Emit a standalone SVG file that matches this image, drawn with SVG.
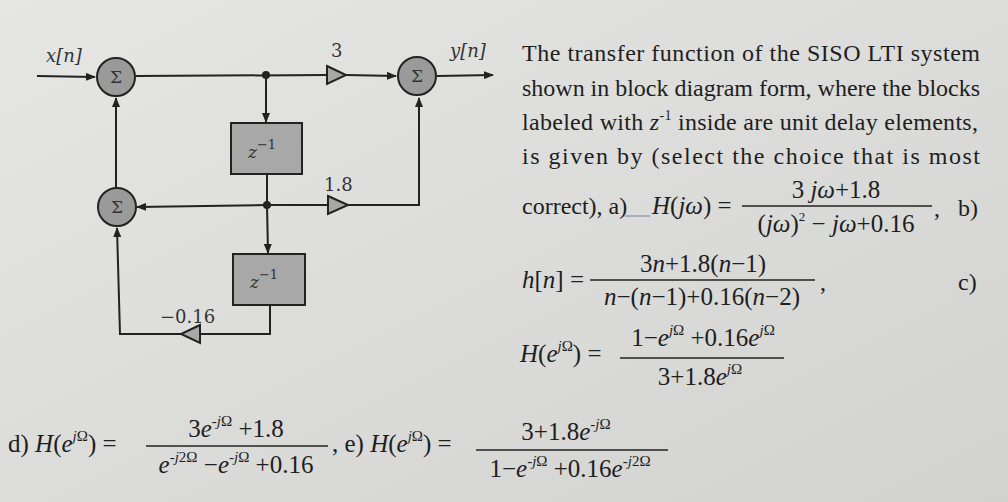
<svg xmlns="http://www.w3.org/2000/svg" width="1008" height="502" viewBox="0 0 1008 502">
<defs>
<linearGradient id="bg" x1="0" y1="0" x2="1" y2="1"><stop offset="0" stop-color="#e6e6e4"/><stop offset="1" stop-color="#d2d2d0"/></linearGradient>
<marker id="ar" markerWidth="10" markerHeight="8" refX="9" refY="4" orient="auto" markerUnits="userSpaceOnUse"><path d="M0,0 L10,4 L0,8 Z" fill="#222"/></marker>
</defs>
<style>
.w{stroke:#222;stroke-width:2;fill:none}
.s{fill:#9a9a9a;stroke:#222;stroke-width:2}
.g{fill:#a8a8a8;stroke:#222;stroke-width:2}
.t{font-family:"Liberation Serif",serif;font-size:24px;fill:#1e1e1e}
.e{font-family:"Liberation Serif",serif;font-size:25px;fill:#1e1e1e}
.d{font-family:"DejaVu Serif",serif;font-size:17px;fill:#333}
.sm{font-size:13px}
</style>
<rect width="1008" height="502" fill="url(#bg)"/>
<g id="connectors">
<line class="w" x1="37" y1="76" x2="95" y2="77" marker-end="url(#ar)"/>
<line class="w" x1="136" y1="76" x2="327" y2="75"/>
<line class="w" x1="346" y1="75" x2="396" y2="76" marker-end="url(#ar)"/>
<line class="w" x1="437" y1="76" x2="493" y2="75" marker-end="url(#ar)"/>
<line class="w" x1="266" y1="75" x2="266" y2="122" marker-end="url(#ar)"/>
<line class="w" x1="267" y1="174" x2="267" y2="205"/>
<line class="w" x1="267" y1="205" x2="137" y2="207" marker-end="url(#ar)"/>
<line class="w" x1="267" y1="205" x2="328" y2="205"/>
<polyline class="w" points="348,205 419,205 419,98" marker-end="url(#ar)"/>
<line class="w" x1="267" y1="205" x2="268" y2="253" marker-end="url(#ar)"/>
<polyline class="w" points="270,305 270,334 200,334"/>
<polyline class="w" points="181,334 120,334 117,228" marker-end="url(#ar)"/>
<line class="w" x1="116" y1="187" x2="116" y2="98" marker-end="url(#ar)"/>
<circle cx="266" cy="75" r="4" fill="#222"/>
<circle cx="267" cy="205" r="4" fill="#222"/>
</g>
<g id="sum1"><circle class="s" cx="116" cy="77" r="19"/><text class="d" x="116" y="83" text-anchor="middle">Σ</text></g>
<g id="sum2"><circle class="s" cx="417" cy="76" r="19"/><text class="d" x="417" y="82" text-anchor="middle">Σ</text></g>
<g id="sum3"><circle class="s" cx="117" cy="207" r="19"/><text class="d" x="117" y="213" text-anchor="middle">Σ</text></g>
<g id="delay1"><rect class="g" x="231" y="123" width="71" height="51"/><text class="d" x="262" y="158" text-anchor="middle" font-style="italic">z<tspan class="sm" dy="-9" font-style="normal">−1</tspan></text></g>
<g id="delay2"><rect class="g" x="233" y="254" width="72" height="51"/><text class="d" x="264" y="288" text-anchor="middle" font-style="italic">z<tspan class="sm" dy="-9" font-style="normal">−1</tspan></text></g>
<g id="gain3"><polygon class="g" points="327,66 346,75 327,84"/></g>
<g id="gain18"><polygon class="g" points="328,196 348,205 328,214"/></g>
<g id="gain016"><polygon class="g" points="200,325 181,334 200,343"/></g>
<g id="labels" font-family="DejaVu Serif,serif" font-size="18" fill="#333">
<text x="46" y="62" font-style="italic">x[n]</text>
<text x="331" y="57">3</text>
<text x="450" y="57" font-style="italic">y[n]</text>
<text x="324" y="191">1.8</text>
<text x="160" y="323">−0.16</text>
</g>
<g id="text">
<text class="t" x="522" y="61" textLength="458">The transfer function of the SISO LTI system</text>
<text class="t" x="522" y="96" textLength="458">shown in block diagram form, where the blocks</text>
<text class="t" x="522" y="130" textLength="456">labeled with <tspan font-style="italic">z</tspan><tspan font-size="14" dy="-10">-1</tspan><tspan dy="10"> inside are unit delay elements,</tspan></text>
<text class="t" x="522" y="164" textLength="458">is given by (select the choice that is most</text>
<text class="t" x="522" y="214">correct),  a)</text>
<line x1="625" y1="216" x2="650" y2="216" stroke="#7a7aaa" stroke-width="1"/>
<text class="e" x="652" y="214"><tspan font-style="italic">H</tspan>(<tspan font-style="italic">jω</tspan>) =</text>
<text class="e" x="836" y="198" text-anchor="middle">3 <tspan font-style="italic">jω</tspan>+1.8</text>
<line x1="742" y1="206" x2="932" y2="206" stroke="#222" stroke-width="1.5"/>
<text class="e" x="836" y="232" text-anchor="middle">(<tspan font-style="italic">jω</tspan>)<tspan font-size="13" dy="-11">2</tspan><tspan dy="11"> − </tspan><tspan font-style="italic">jω</tspan>+0.16</text>
<text class="t" x="934" y="216">,</text>
<text class="t" x="958" y="216">b)</text>
<text class="e" x="522" y="288"><tspan font-style="italic">h</tspan>[<tspan font-style="italic">n</tspan>] =</text>
<text class="e" x="703" y="272" text-anchor="middle">3<tspan font-style="italic">n</tspan>+1.8(<tspan font-style="italic">n</tspan>−1)</text>
<line x1="590" y1="280" x2="815" y2="280" stroke="#222" stroke-width="1.5"/>
<text class="e" x="702" y="305" text-anchor="middle"><tspan font-style="italic">n</tspan>−(<tspan font-style="italic">n</tspan>−1)+0.16(<tspan font-style="italic">n</tspan>−2)</text>
<text class="t" x="820" y="290">,</text>
<text class="t" x="958" y="290">c)</text>
<text class="e" x="520" y="362"><tspan font-style="italic">H</tspan>(<tspan font-style="italic">e</tspan><tspan font-size="15" dy="-11"><tspan font-style="italic">j</tspan>Ω</tspan><tspan dy="11">) =</tspan></text>
<text class="e" x="703" y="346" text-anchor="middle">1−<tspan font-style="italic">e</tspan><tspan font-size="15" dy="-11"><tspan font-style="italic">j</tspan>Ω</tspan><tspan dy="11"> +0.16</tspan><tspan font-style="italic">e</tspan><tspan font-size="15" dy="-11"><tspan font-style="italic">j</tspan>Ω</tspan></text>
<line x1="620" y1="358" x2="784" y2="358" stroke="#222" stroke-width="1.5"/>
<text class="e" x="700" y="385" text-anchor="middle">3+1.8<tspan font-style="italic">e</tspan><tspan font-size="15" dy="-11"><tspan font-style="italic">j</tspan>Ω</tspan></text>
<text class="e" x="8" y="452">d) <tspan font-style="italic">H</tspan>(<tspan font-style="italic">e</tspan><tspan font-size="15" dy="-11"><tspan font-style="italic">j</tspan>Ω</tspan><tspan dy="11">) =</tspan></text>
<text class="e" x="236" y="437" text-anchor="middle">3<tspan font-style="italic">e</tspan><tspan font-size="15" dy="-11">-<tspan font-style="italic">j</tspan>Ω</tspan><tspan dy="11"> +1.8</tspan></text>
<line x1="146" y1="446" x2="328" y2="446" stroke="#222" stroke-width="1.5"/>
<text class="e" x="236" y="473" text-anchor="middle"><tspan font-style="italic">e</tspan><tspan font-size="15" dy="-11">-<tspan font-style="italic">j</tspan>2Ω</tspan><tspan dy="11"> −</tspan><tspan font-style="italic">e</tspan><tspan font-size="15" dy="-11">-<tspan font-style="italic">j</tspan>Ω</tspan><tspan dy="11"> +0.16</tspan></text>
<text class="e" x="332" y="452">, e) <tspan font-style="italic">H</tspan>(<tspan font-style="italic">e</tspan><tspan font-size="15" dy="-11"><tspan font-style="italic">j</tspan>Ω</tspan><tspan dy="11">) =</tspan></text>
<text class="e" x="566" y="440" text-anchor="middle">3+1.8<tspan font-style="italic">e</tspan><tspan font-size="15" dy="-11">-<tspan font-style="italic">j</tspan>Ω</tspan></text>
<line x1="476" y1="450" x2="668" y2="450" stroke="#222" stroke-width="1.5"/>
<text class="e" x="570" y="477" text-anchor="middle">1−<tspan font-style="italic">e</tspan><tspan font-size="15" dy="-11">-<tspan font-style="italic">j</tspan>Ω</tspan><tspan dy="11"> +0.16</tspan><tspan font-style="italic">e</tspan><tspan font-size="15" dy="-11">-<tspan font-style="italic">j</tspan>2Ω</tspan></text>
</g>
</svg>
